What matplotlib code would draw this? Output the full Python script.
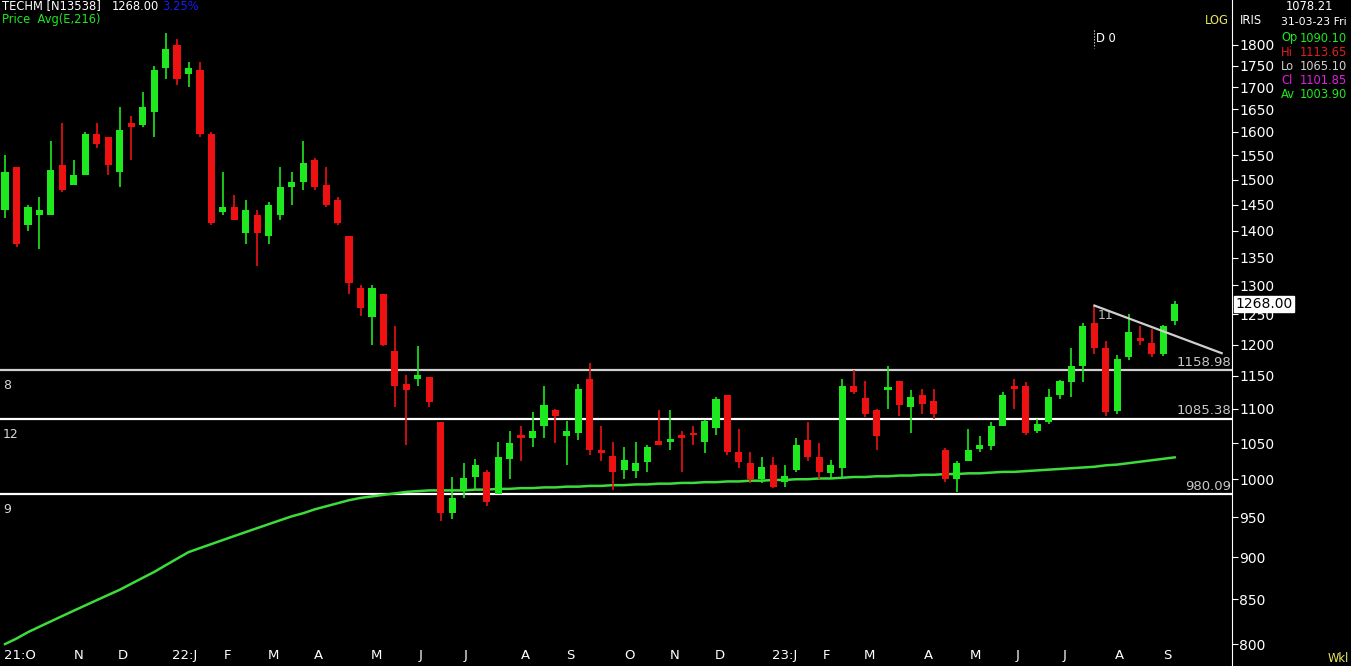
import matplotlib
matplotlib.use("Agg")
import matplotlib.pyplot as plt
import numpy as np

opens = [1440,1525,1410,1430,1430,1530,1490,1510,1595,1590,1515,1620,1615,1645,1745,1800,1730,1740,1595,
         1435,1445,1395,1430,1390,1430,1485,1495,1540,1490,1460,1390,1295,1245,1285,1190,1138,1146,1148,1080,
         955,985,1003,1010,980,1028,1060,1058,1075,1098,1060,1065,1145,1040,1032,1013,1011,1023,1053,1052,1060,1063,
         1052,1072,1120,1038,1022,1000,1020,996,1013,1054,1030,1008,1015,1135,1116,1098,1128,1142,1103,1120,1112,
         1040,1000,1025,1042,1046,1075,1135,1135,1068,1080,1120,1140,1165,1235,1195,1097,1180,1210,1203,1185,1238]
highs = [1550,1525,1450,1465,1580,1620,1540,1600,1620,1590,1655,1635,1690,1750,1830,1815,1760,1760,1600,
         1515,1470,1460,1440,1455,1525,1515,1580,1545,1525,1465,1390,1300,1300,1285,1230,1152,1198,1148,1080,
         1003,1022,1028,1012,1052,1068,1075,1095,1135,1100,1082,1137,1170,1075,1052,1045,1052,1048,1098,1098,1068,1075,
         1084,1117,1120,1070,1037,1030,1030,1020,1057,1080,1050,1026,1145,1160,1142,1100,1165,1142,1128,1130,1130,
         1043,1025,1070,1060,1080,1125,1145,1140,1085,1130,1143,1195,1235,1265,1205,1183,1250,1230,1225,1232,1272]
lows = [1425,1370,1400,1365,1430,1475,1490,1510,1565,1510,1485,1540,1610,1590,1720,1705,1700,1590,1410,
        1430,1420,1375,1335,1375,1420,1450,1480,1480,1445,1410,1285,1248,1200,1198,1102,1048,1135,1102,945,
        948,975,985,965,980,1000,1025,1045,1058,1050,1020,1055,1033,1025,985,1000,1002,1010,1047,1040,1010,1047,
        1036,1062,1034,1015,995,995,988,990,1010,1025,1000,1002,1002,1123,1088,1040,1100,1090,1065,1092,1085,
        996,983,1025,1037,1040,1075,1100,1062,1065,1077,1115,1118,1140,1185,1090,1092,1175,1200,1180,1182,1232]
closes = [1515,1375,1445,1440,1520,1480,1510,1595,1575,1530,1605,1610,1655,1740,1790,1720,1745,1595,1415,
          1445,1420,1440,1395,1450,1485,1495,1535,1485,1450,1415,1305,1260,1295,1200,1135,1128,1152,1110,955,
          975,1002,1020,970,1030,1050,1058,1068,1105,1090,1068,1130,1040,1036,1010,1027,1022,1045,1048,1054,1058,1061,
          1082,1115,1038,1024,1000,1017,990,1004,1047,1030,1010,1020,1135,1125,1092,1060,1132,1105,1118,1107,1093,
          1000,1022,1040,1047,1075,1120,1130,1065,1078,1118,1142,1165,1230,1195,1095,1177,1220,1205,1185,1230,1268]
ema = [800,806,813,819,825,831,837,843,849,855,861,868,875,882,890,898,906,911,916,921,926,931,936,941,946,
       951,955,960,964,968,972,975,977,979,981,983,984,985,985,985,985,986,986,987,987,988,988,989,989,990,990,
       991,991,992,992,993,993,994,994,995,995,996,996,997,997,998,998,999,999,1000,1000,1001,1001,1002,1003,
       1003,1004,1004,1005,1005,1006,1006,1007,1007,1008,1008,1009,1010,1010,1011,1012,1013,1014,1015,1016,1017,
       1019,1020,1022,1024,1026,1028,1030]
levels = [1158.98, 1085.38, 980.09]
level_counts = ["8", "12", "9"]
trend_x = [95.0, 106.1]
trend_y = [1265, 1186]
month_labels = ["21:O","N","D","22:J","F","M","A","M","J","J","A","S","O","N","D",
                "23:J","F","M","A","M","J","J","A","S"]
month_idx = [1.3,6.4,10.3,15.7,19.4,23.4,27.3,32.4,36.2,40.2,45.4,49.3,54.5,58.4,62.3,
             68.0,71.6,75.4,80.5,84.6,88.3,92.4,97.2,101.4]
yticks = [800,850,900,950,1000,1050,1100,1150,1200,1250,1300,1350,1400,1450,1500,1550,
          1600,1650,1700,1750,1800]

GREEN = "#1ee81e"; RED = "#ee1111"
W, H = 1351, 666
fig = plt.figure(figsize=(W/100, H/100), dpi=100, facecolor="black")
ax = fig.add_axes([0, 0, 1232/W, 1], facecolor="black")
ax.set_yscale("log")
ax.set_ylim(776.6, 1913)
ax.set_xlim(-0.44, 107.0)

x = np.arange(len(opens))
o = np.array(opens, float); c = np.array(closes, float)
hi = np.array(highs, float); lo = np.array(lows, float)
col = [GREEN if cc >= oo else RED for oo, cc in zip(o, c)]
ax.vlines(x, lo, hi, colors=col, linewidth=1.2, zorder=3)
bot = np.minimum(o, c); top = np.maximum(o, c)
top = np.maximum(top, bot * 1.004)
ax.bar(x, top - bot, bottom=bot, width=0.62, color=col, linewidth=0, zorder=4)

ax.plot(x, ema, color="#3ddc3d", lw=1.8, zorder=2)
for lv, cnt, lc in zip(levels, level_counts, ["#d0d0d0", "white", "white"]):
    ax.axhline(lv, color=lc, lw=1.6, zorder=1)
    ax.text(-0.2, lv * 0.988, cnt, color="#d8d8d8", fontsize=9, va="top", ha="left")
    ax.text(106.9, lv * 1.002, f"{lv:.2f}", color="#c8c8c8", fontsize=9.5, va="bottom", ha="right")
ax.plot(trend_x, trend_y, color="#cfcfcf", lw=1.6, zorder=5)
ax.text(trend_x[0] + 0.3, trend_y[0] * 0.996, "11", color="#bbbbbb", fontsize=9, va="top")

for s in ["left", "top", "bottom"]:
    ax.spines[s].set_visible(False)
ax.spines["right"].set_color("white")
ax.yaxis.tick_right()
ax.set_yticks(yticks)
ax.set_yticklabels([str(t) for t in yticks])
ax.yaxis.set_minor_locator(matplotlib.ticker.NullLocator())
ax.tick_params(axis="y", colors="white", labelsize=10, length=4, pad=1)
ax.set_xticks(month_idx)
ax.set_xticklabels(month_labels)
ax.tick_params(axis="x", colors="white", labelsize=9.5, length=0, pad=-12)

fig.text(1235/W, 1 - 304/H, f"{closes[-1]:.2f}", color="black", fontsize=10, va="center",
         bbox=dict(boxstyle="square,pad=0.1", fc="white", ec="white"))

fs = 8.3
fig.text(2/W, 1 - 6/H, "TECHM [N13538]", color="white", fontsize=fs, va="center")
fig.text(112/W, 1 - 6/H, f"{closes[-1]:.2f}", color="white", fontsize=fs, va="center")
fig.text(162/W, 1 - 6/H, "3.25%", color="#1a1aff", fontsize=fs, va="center")
fig.text(2/W, 1 - 20/H, "Price  Avg(E,216)", color=GREEN, fontsize=fs, va="center")
fig.text(1205/W, 1 - 21/H, "LOG", color="#e8e860", fontsize=fs, va="center")
fig.text(1240/W, 1 - 21/H, "IRIS", color="white", fontsize=fs, va="center")
fig.text(1286/W, 1 - 6/H, "1078.21", color="white", fontsize=fs, va="center")
fig.text(1281/W, 1 - 22/H, "31-03-23 Fri", color="white", fontsize=7.8, va="center")
info = [("Op", "1090.10", GREEN), ("Hi", "1113.65", "#e02020"), ("Lo", "1065.10", "#d0d0d0"),
        ("Cl", "1101.85", "#e020e0"), ("Av", "1003.90", GREEN)]
for k, (lab, val, cc) in enumerate(info):
    yy = 1 - (38 + 14 * k) / H
    fig.text(1281/W, yy, lab, color=cc, fontsize=fs, va="center")
    fig.text(1300/W, yy, val, color=cc, fontsize=fs, va="center")
fig.text(1096/W, 1 - 39/H, "D 0", color="white", fontsize=fs, va="center")
fig.add_artist(plt.Line2D([1094/W, 1094/W], [1 - 30/H, 1 - 48/H], color="white", lw=0.8, ls=":"))
fig.text(1328/W, 1 - 658/H, "Wkl", color="#e8e860", fontsize=fs, va="center")

fig.savefig("out.png", dpi=100, facecolor="black")
